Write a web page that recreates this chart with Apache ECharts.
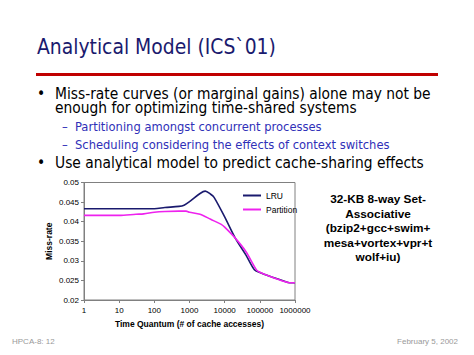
<!DOCTYPE html>
<html><head><meta charset="utf-8">
<script src="https://cdn.jsdelivr.net/npm/echarts@6/dist/echarts.min.js"></script>
<style>html,body{margin:0;padding:0;background:#fff}#c{width:474px;height:355px}</style>
</head><body><div id="c"></div>
<script>
const xTicks = [1, 10, 100, 1000, 10000, 100000, 1000000];
const yTicks = [0.02, 0.025, 0.03, 0.035, 0.04, 0.045, 0.05];
const seriesNames = ['LRU', 'Partition'];
const lruX = [1, 10, 100, 200, 500, 700, 1000, 2000, 2800, 4000, 5000, 10000, 20000, 40000, 70000, 100000, 200000, 500000, 700000, 1000000];
const lruY = [0.0433, 0.0433, 0.0433, 0.0436, 0.0439, 0.0442, 0.0451, 0.0472, 0.0478, 0.0470, 0.0462, 0.0412, 0.0358, 0.0315, 0.0277, 0.0270, 0.0260, 0.0248, 0.0244, 0.0244];
const partX = [1, 10, 30, 50, 100, 200, 500, 800, 1000, 2000, 4000, 8000, 10000, 20000, 40000, 80000, 100000, 200000, 500000, 700000, 1000000];
const partY = [0.0416, 0.0416, 0.0419, 0.0420, 0.0424, 0.0426, 0.0427, 0.0427, 0.0424, 0.0419, 0.0406, 0.0393, 0.0386, 0.0358, 0.0324, 0.0277, 0.0271, 0.0260, 0.0247, 0.0244, 0.0244];
const titleText = 'Analytical Model (ICS`01)';
const bullets = ['Miss-rate curves (or marginal gains) alone may not be', 'enough for optimizing time-shared systems', 'Use analytical model to predict cache-sharing effects'];
const subBullets = ['Partitioning amongst concurrent processes', 'Scheduling considering the effects of context switches'];
const sideNote = ['32-KB 8-way Set-', 'Associative', '(bzip2+gcc+swim+', 'mesa+vortex+vpr+t', 'wolf+iu)'];
const footerLeft = 'HPCA-8: 12';
const footerRight = 'February 5, 2002';

const chart = echarts.init(document.getElementById('c'), null, {renderer: 'svg'});
const F = 'Liberation Sans, Arial, sans-serif';
const T = '"DejaVu Sans Condensed", "DejaVu Sans", sans-serif';
const cv = document.createElement('canvas').getContext('2d');
function fit(text, targetW){
  cv.font = '20px ' + T;
  const w = cv.measureText(text).width;
  return 20 * targetW / w;
}
function txt(x, base, text, size, color){
  return {type:'text', x:x, y:base + 0.2*size, style:{text:text, font:size+'px '+T, fill:color, verticalAlign:'bottom'}};
}
const g = [];
const ts = fit(titleText, 239);
g.push(txt(37, 53.5, titleText, ts, '#1a1a6e'));
g.push({type:'rect', shape:{x:36, y:73, width:402, height:3}, style:{fill:'#c00000'}});
const bs = fit(bullets[0], 376);
const bBase = [98, 112.5, 167];
bullets.forEach((t,i)=>g.push(txt(55, bBase[i], t, bs, '#000')));
[0,2].forEach(i=>g.push(txt(37, bBase[i], '•', bs, '#000')));
const ss = fit(subBullets[0], 247);
const sBase = [130.5, 148.5];
subBullets.forEach((t,i)=>{
  g.push(txt(62, sBase[i], '–', ss, '#3030b8'));
  g.push(txt(75, sBase[i], t, ss, '#3030b8'));
});
const nY = [199, 213.5, 228, 242.5, 257];
sideNote.forEach((t,i)=>{
  g.push({type:'text', x:378, y:nY[i], style:{text:t, font:'bold 11.8px '+F, fill:'#000', textAlign:'center', verticalAlign:'middle'}});
});
g.push({type:'text', left:12, top:337, style:{text:footerLeft, font:'8px '+F, fill:'#999'}});
g.push({type:'text', right:16, top:337, style:{text:footerRight, font:'8px '+F, fill:'#999'}});

chart.setOption({
  animation:false,
  graphic:g,
  grid:{left:84, top:182.5, width:211, height:117.5, show:true, borderColor:'#808080', borderWidth:1, backgroundColor:'transparent'},
  legend:{left:243, top:186, orient:'vertical', itemWidth:18, itemHeight:2, itemGap:5, icon:'rect', padding:[5,0,5,0],
    textStyle:{fontFamily:F, fontSize:8.5, color:'#000'}, data:seriesNames},
  xAxis:{type:'log', logBase:10, min:xTicks[0], max:xTicks[xTicks.length-1],
    name:'Time Quantum (# of cache accesses)', nameLocation:'middle', nameGap:19,
    nameTextStyle:{fontFamily:F, fontSize:8.5, fontWeight:'bold', color:'#000'},
    axisLine:{lineStyle:{color:'#808080'}}, axisTick:{inside:false, length:3, lineStyle:{color:'#808080'}},
    minorTick:{show:false}, splitLine:{show:false},
    axisLabel:{fontFamily:F, fontSize:8, color:'#000', margin:6, formatter:v=>String(Math.round(v))}},
  yAxis:{type:'value', min:yTicks[0], max:yTicks[yTicks.length-1], interval:0.005,
    name:'Miss-rate', nameLocation:'middle', nameGap:31, nameRotate:90,
    nameTextStyle:{fontFamily:F, fontSize:8.5, fontWeight:'bold', color:'#000'},
    axisLine:{show:true, lineStyle:{color:'#808080'}}, axisTick:{show:true, length:3, lineStyle:{color:'#808080'}},
    splitLine:{show:false},
    axisLabel:{fontFamily:F, fontSize:8, color:'#000', margin:5, formatter:v=>String(+v.toFixed(3))}},
  series:[
    {name:seriesNames[0], type:'line', smooth:0.3, symbol:'none', data:lruX.map((x,i)=>[x,lruY[i]]),
     lineStyle:{color:'#1a1a6e', width:1.6}, itemStyle:{color:'#1a1a6e'}},
    {name:seriesNames[1], type:'line', smooth:0.3, symbol:'none', data:partX.map((x,i)=>[x,partY[i]]),
     lineStyle:{color:'#ee22ee', width:1.6}, itemStyle:{color:'#ee22ee'}}
  ]
});
</script></body></html>
